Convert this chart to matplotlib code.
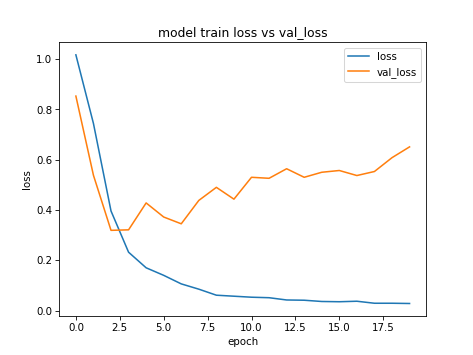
import matplotlib
matplotlib.use("Agg")
import matplotlib.pyplot as plt

epochs = list(range(20))
loss = [1.017, 0.744, 0.396, 0.232, 0.170, 0.140, 0.106, 0.085, 0.061, 0.057,
        0.053, 0.051, 0.042, 0.041, 0.036, 0.035, 0.037, 0.029, 0.029, 0.028]
val_loss = [0.853, 0.538, 0.319, 0.321, 0.428, 0.372, 0.345, 0.438, 0.490, 0.443,
            0.530, 0.526, 0.564, 0.530, 0.550, 0.557, 0.537, 0.553, 0.608, 0.651]

fig = plt.figure(figsize=(6.4, 4.8), dpi=74)
plt.plot(epochs, loss, label="loss")
plt.plot(epochs, val_loss, label="val_loss")
plt.title("model train loss vs val_loss")
plt.xlabel("epoch")
plt.ylabel("loss")
plt.legend(loc="upper right")
fig.savefig("out.png", dpi=74)
